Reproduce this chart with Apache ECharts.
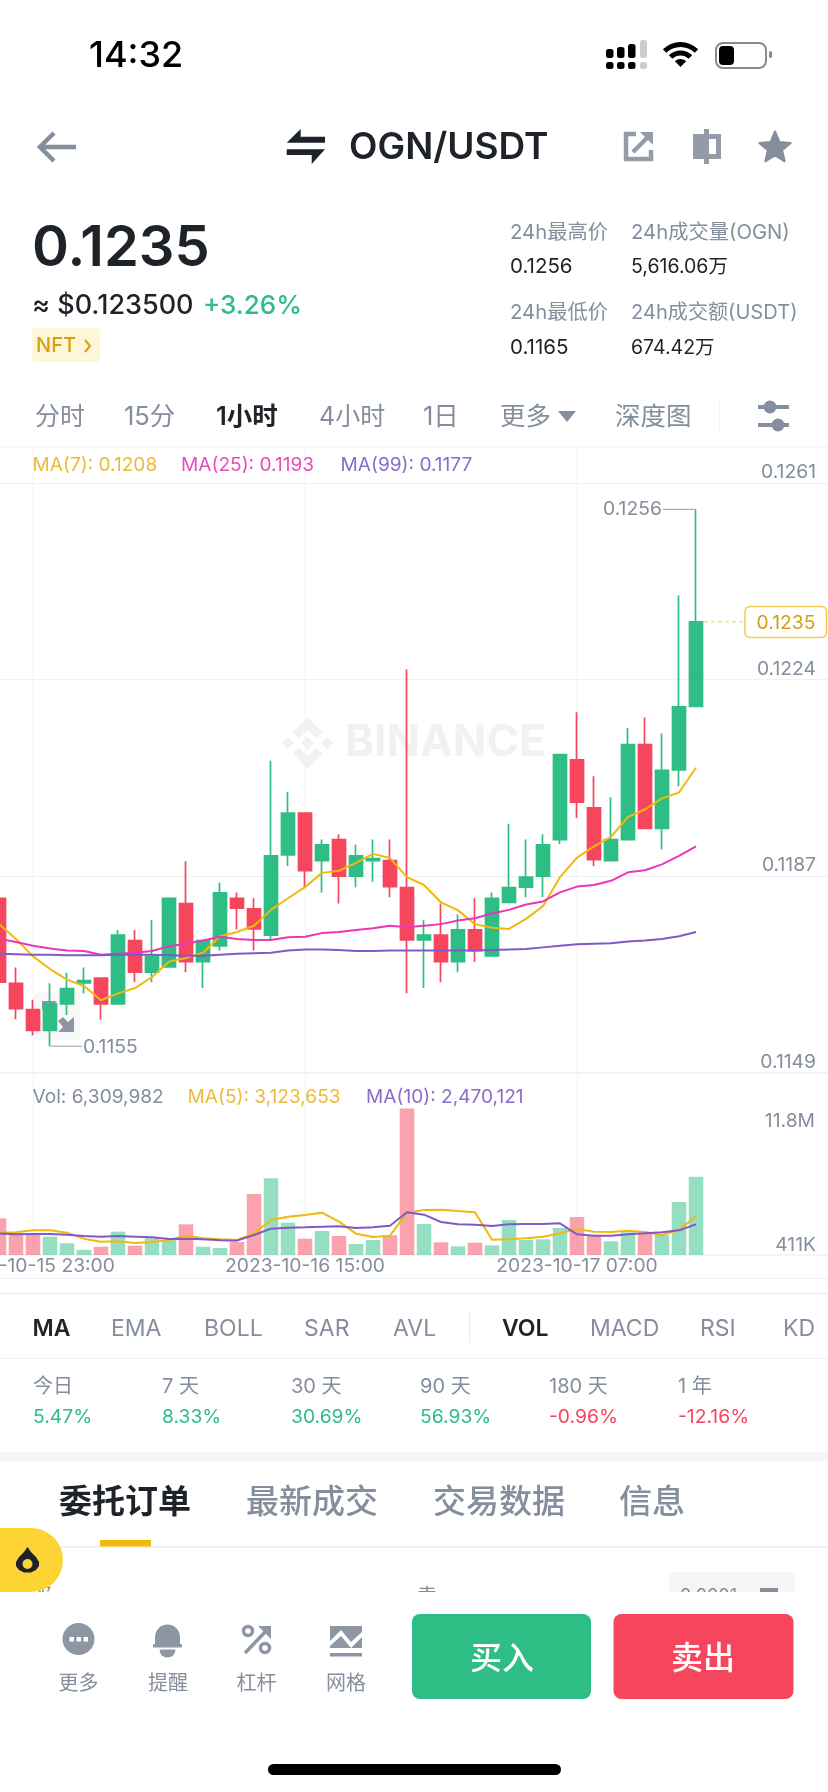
<!DOCTYPE html>
<html>
<head>
<meta charset="utf-8">
<title>OGN/USDT</title>
<style>
html,body{margin:0;padding:0;background:#fff;}
#container{width:828px;height:1792px;}
</style>
<script src="https://cdn.jsdelivr.net/npm/echarts@6/dist/echarts.min.js"></script>
</head>
<body>
<div id="container"></div>
<script>
// hourly candles
var hours = ['10-15 21:00','10-15 22:00','10-15 23:00','10-16 00:00','10-16 01:00','10-16 02:00','10-16 03:00','10-16 04:00','10-16 05:00','10-16 06:00','10-16 07:00','10-16 08:00','10-16 09:00','10-16 10:00','10-16 11:00','10-16 12:00','10-16 13:00','10-16 14:00','10-16 15:00','10-16 16:00','10-16 17:00','10-16 18:00','10-16 19:00','10-16 20:00','10-16 21:00','10-16 22:00','10-16 23:00','10-17 00:00','10-17 01:00','10-17 02:00','10-17 03:00','10-17 04:00','10-17 05:00','10-17 06:00','10-17 07:00','10-17 08:00','10-17 09:00','10-17 10:00','10-17 11:00','10-17 12:00','10-17 13:00','10-17 14:00'];
var emptySlots = ['','','','','','','',''];

var opens  = [0.11824,0.11663,0.11613,0.11574,0.11624,0.11664,0.11673,0.11624,0.11744,0.11684,0.11694,0.11814,0.11704,0.11734,0.11824,0.11804,0.11754,0.11906,0.11985,0.11895,0.11935,0.11866,0.11895,0.11895,0.11844,0.11745,0.11754,0.11704,0.11764,0.11715,0.11816,0.11845,0.11866,0.11935,0.12086,0.11995,0.11895,0.11935,0.12115,0.11956,0.12067,0.12187];
var closes = [0.11665,0.11615,0.11574,0.11624,0.11653,0.11668,0.11624,0.11754,0.11684,0.11714,0.11824,0.11704,0.11744,0.11834,0.11805,0.11766,0.11904,0.11985,0.11876,0.11925,0.11866,0.11904,0.11899,0.11846,0.11745,0.11754,0.11704,0.11764,0.11725,0.11824,0.11844,0.11864,0.11925,0.12096,0.12006,0.11897,0.11935,0.12115,0.11956,0.12066,0.12186,0.12347];
var lows   = [0.11665,0.11595,0.11564,0.11544,0.11603,0.11644,0.11594,0.11624,0.11665,0.11665,0.11694,0.11684,0.11654,0.11725,0.11765,0.11725,0.11745,0.11885,0.11845,0.11835,0.11814,0.11845,0.11855,0.11826,0.11644,0.11654,0.11665,0.11684,0.11704,0.11715,0.11816,0.11826,0.11826,0.11926,0.11976,0.11885,0.11895,0.11935,0.11956,0.11916,0.12036,0.12187];
var highs  = [0.11824,0.11693,0.11632,0.11663,0.11683,0.11693,0.11673,0.11764,0.11764,0.11783,0.11824,0.11894,0.11744,0.11854,0.11835,0.11824,0.12084,0.12025,0.11985,0.11935,0.11945,0.11925,0.11935,0.11935,0.12257,0.11783,0.11814,0.11793,0.11824,0.11835,0.11965,0.11935,0.11945,0.12096,0.12176,0.12055,0.12015,0.12146,0.12166,0.12136,0.12397,0.12560];

var ma7  = [0.11775,0.11747,0.11714,0.11690,0.11670,0.11658,0.11631,0.11644,0.11654,0.11675,0.11704,0.11711,0.11721,0.11752,0.11760,0.11772,0.11802,0.11824,0.11845,0.11872,0.11876,0.11891,0.11908,0.11900,0.11864,0.11849,0.11816,0.11801,0.11775,0.11768,0.11766,0.11785,0.11809,0.11864,0.11901,0.11922,0.11940,0.11978,0.11992,0.12013,0.12024,0.12071];
var ma25 = [0.11747,0.11741,0.11734,0.11729,0.11725,0.11724,0.11717,0.11719,0.11721,0.11724,0.11733,0.11738,0.11744,0.11751,0.11747,0.11745,0.11745,0.11750,0.11751,0.11758,0.11760,0.11764,0.11767,0.11772,0.11769,0.11772,0.11775,0.11782,0.11786,0.11795,0.11802,0.11812,0.11818,0.11835,0.11846,0.11849,0.11857,0.11873,0.11877,0.11888,0.11904,0.11922];
var ma99 = [0.11719,0.11718,0.11717,0.11717,0.11716,0.11716,0.11716,0.11717,0.11717,0.11717,0.11716,0.11715,0.11715,0.11717,0.11719,0.11720,0.11721,0.11725,0.11727,0.11727,0.11726,0.11724,0.11724,0.11725,0.11725,0.11725,0.11725,0.11725,0.11725,0.11726,0.11727,0.11728,0.11731,0.11734,0.11737,0.11738,0.11739,0.11742,0.11744,0.11747,0.11752,0.11760];

var volumes = [2954000,1745000,1692000,1477000,940000,411000,671000,1880000,752000,1343000,1208000,2470000,671000,564000,1047000,4914000,6176000,2605000,1316000,1933000,1530000,886000,1208000,1584000,11810000,2497000,1020000,698000,993000,779000,2819000,1208000,1262000,2175000,3061000,1611000,1101000,1826000,1745000,1611000,4269000,6309982];
var volMa5  = [1799000,1826000,1987000,1987000,1799000,1316000,1074000,1101000,967000,1047000,1208000,1557000,1343000,1262000,1208000,1745000,2819000,3088000,3222000,3410000,2685000,1718000,1450000,1557000,3410000,3625000,3652000,3544000,3437000,1235000,1262000,1343000,1477000,1745000,2094000,1880000,1853000,1960000,1853000,1611000,2014000,3123653];
var volMa10 = [1745000,1665000,1692000,1692000,1638000,1531000,1477000,1531000,1477000,1423000,1289000,1316000,1262000,1181000,1155000,1611000,2121000,2202000,2229000,2282000,2309000,2175000,2229000,2363000,3437000,3249000,2658000,2470121,2443000,2336000,2470000,2497000,2497000,2551000,1665000,1557000,1557000,1665000,1745000,1826000,1987000,2470121];

var priceTicks = [0.1261,0.12238,0.11866,0.11494];
var volTickLabels = ['11.8M','411K'];
var priceLegend = ['MA(7): 0.1208','MA(25): 0.1193','MA(99): 0.1177'];
var volLegend = ['Vol: 6,309,982','MA(5): 3,123,653','MA(10): 2,470,121'];
var highLabel = '0.1256', lowLabel = '0.1155', lastLabel = '0.1235';
var periodNames = ['今日','7 天','30 天','90 天','180 天','1 年'];
var periodChanges = ['5.47%','8.33%','30.69%','56.93%','-0.96%','-12.16%'];

var GREEN = '#2EBD85', RED = '#F6465D', GREY = '#848E9C', DARK = '#1E2329', RULE = '#F0F1F2';
var C_MA7 = '#F0B90B', C_MA25 = '#EC36B4', C_MA99 = '#8159C6';
var FONT = "Inter,'Noto Sans CJK SC',sans-serif";
var CJK = "'Noto Sans CJK SC',Inter,sans-serif";

var dom = document.getElementById('container');
var myChart = echarts.init(dom, null, {renderer:'canvas', width:828, height:1792});

var categories = hours.map(function (h) { return '2023-' + h; }).concat(emptySlots);
var candleData = opens.map(function (o, i) { return [o, closes[i], lows[i], highs[i]]; });
var volumeData = volumes.map(function (v, i) {
    return {value:v, itemStyle:{color: closes[i] >= opens[i] ? GREEN : RED, opacity:0.5}};
});
var tickEvery16 = function (i) { return (i - 2) % 16 === 0; };

function maLine(name, data, color, xi) {
    return {name:name, type:'line', data:data, xAxisIndex:xi, yAxisIndex:xi, showSymbol:false, silent:true,
        lineStyle:{color:color, width:2}, z:5};
}

var option = {
    animation:false,
    backgroundColor:'#fff',
    grid:[
        {left:-9.5, width:850, top:447, height:625.6, show:true, borderColor:RULE, borderWidth:1, outerBoundsMode:'none'},
        {left:-9.5, width:850, top:1073, height:182, show:true, borderColor:RULE, borderWidth:1.5, outerBoundsMode:'none'}
    ],
    xAxis:[
        {type:'category', gridIndex:0, data:categories, axisLine:{show:false}, axisTick:{show:false, alignWithLabel:true},
            axisLabel:{show:false},
            splitLine:{show:true, interval:tickEvery16, alignWithLabel:true, lineStyle:{color:RULE, width:1}}},
        {type:'category', gridIndex:1, data:categories, axisLine:{show:false}, axisTick:{show:false, alignWithLabel:true},
            axisLabel:{show:true, interval:tickEvery16, color:GREY, fontSize:19.3, fontFamily:FONT, margin:2, hideOverlap:false},
            splitLine:{show:true, interval:tickEvery16, alignWithLabel:true, lineStyle:{color:RULE, width:1}}}
    ],
    yAxis:[
        {type:'value', gridIndex:0, position:'right', min:0.11494, max:0.12678,
            axisLine:{show:false},
            axisTick:{show:false, customValues:priceTicks},
            axisLabel:{inside:true, margin:24.5, color:GREY, fontSize:19.3, fontFamily:FONT, verticalAlign:'bottom', lineHeight:21,
                customValues:priceTicks, formatter:function (v) { return v.toFixed(4); }},
            splitLine:{show:true, lineStyle:{color:RULE, width:1}}},
        {type:'value', gridIndex:1, position:'right', min:0, max:14660000,
            axisLine:{show:false}, axisTick:{show:false}, axisLabel:{show:false}, splitLine:{show:false}}
    ],
    series:[
        {name:'K', type:'candlestick', data:candleData, xAxisIndex:0, yAxisIndex:0, barWidth:13.5, silent:true, z:3,
            itemStyle:{color:GREEN, color0:RED, borderColor:GREEN, borderColor0:RED, borderWidth:1.7}},
        maLine('MA7', ma7, C_MA7, 0),
        maLine('MA25', ma25, C_MA25, 0),
        maLine('MA99', ma99, C_MA99, 0),
        {name:'Vol', type:'bar', data:volumeData, xAxisIndex:1, yAxisIndex:1, barWidth:14.5, silent:true, z:3},
        maLine('VolMA5', volMa5, C_MA7, 1),
        maLine('VolMA10', volMa10, C_MA99, 1)
    ]
};
myChart.setOption(option);

// ---- helpers for everything around the plot
function T(str, x, y, size, color, o) {
    o = o || {};
    return {type:'text', x:x, y:y, z:o.z || 20, silent:true, style:{text:str, fill:color,
        font:(o.weight || 400) + ' ' + size + 'px ' + (o.family || FONT), align:o.align || 'left', verticalAlign:'middle'}};
}
function R(x, y, w, h, fill, r, z) {
    return {type:'rect', z:z == null ? 20 : z, silent:true, shape:{x:x, y:y, width:w, height:h, r:r || 0}, style:{fill:fill}};
}
function L(x1, y1, x2, y2, color, w, o) {
    o = o || {};
    return {type:'line', z:o.z == null ? 20 : o.z, silent:true, shape:{x1:x1, y1:y1, x2:x2, y2:y2},
        style:{stroke:color, lineWidth:w, lineDash:o.dash || null, lineCap:o.cap || 'butt'}};
}
function P(pts, fill, z) {
    return {type:'polygon', z:z == null ? 20 : z, silent:true, shape:{points:pts}, style:{fill:fill}};
}
function PL(pts, color, w, z) {
    return {type:'polyline', z:z == null ? 20 : z, silent:true, shape:{points:pts}, style:{stroke:color, lineWidth:w, fill:null, lineJoin:'miter'}};
}
function Cr(cx, cy, r, fill, o) {
    o = o || {};
    return {type:'circle', z:20, silent:true, shape:{cx:cx, cy:cy, r:r}, style:{fill:fill, stroke:o.stroke || null, lineWidth:o.lw || 0}};
}
function unitPoly(cx, cy, s, pts, fill, z) {
    return P(pts.map(function (p) { return [cx + p[0] * s, cy + p[1] * s]; }), fill, z);
}

var g = [];

// status bar
g.push(T('14:32', 89, 56, 36, '#000', {weight:500}));
[[606,49,9],[617,47,11],[628,44,14]].forEach(function (c) { g.push(R(c[0], c[1], 7.5, c[2], '#000', 2.5)); });
g.push(R(640, 40, 7, 18, '#ccc', 2.5));
[606,617,628].forEach(function (x) { g.push(R(x, 62, 7.5, 7, '#000', 2.5)); });
g.push(R(640, 62, 7, 7, '#ccc', 2.5));
[[20,25],[11.5,16.5],[0,8]].forEach(function (a) {
    g.push({type:'sector', z:20, silent:true, shape:{cx:680.5, cy:67, r0:a[0], r:a[1], startAngle:-Math.PI * 0.75, endAngle:-Math.PI * 0.25}, style:{fill:'#000'}});
});
g.push({type:'rect', z:20, silent:true, shape:{x:716, y:43, width:50, height:25, r:7}, style:{fill:'#fff', stroke:'#8a8a8a', lineWidth:2}});
g.push(R(719, 46, 15, 19, '#000', 4));
g.push(R(769, 51, 3, 7, '#8a8a8a', 1.5));

// title bar
g.push(PL([[54,133],[40,147],[54,161]], GREY, 4.5));
g.push(L(41, 147, 76, 147, GREY, 4.5));
g.push(P([[286.7,142.7],[300.7,129],[300.7,136.7],[325,136.7],[325,142.7]], DARK));
g.push(P([[286.7,149.3],[325,149.3],[311.7,164],[311.7,155],[286.7,155]], DARK));
g.push(T('OGN/USDT', 349, 148, 37, DARK, {weight:600}));
g.push(PL([[636,134],[626,134],[626,159],[651,159],[651,150]], '#939BA8', 4.5));
g.push(L(633, 152, 648, 137, '#939BA8', 4.5));
g.push(P([[640,132],[653,132],[653,145]], '#939BA8'));
g.push(R(704, 129, 5, 35, '#939BA8'));
g.push(R(693, 134, 28, 25, '#939BA8'));
g.push(R(709, 139, 7, 15, '#fff'));
(function () {
    var pts = [], i, a, r;
    for (i = 0; i < 10; i++) {
        a = -Math.PI / 2 + i * Math.PI / 5;
        r = i % 2 ? 7.5 : 16.5;
        pts.push([775 + r * Math.cos(a), 148 + r * Math.sin(a)]);
    }
    g.push({type:'polygon', z:20, silent:true, shape:{points:pts}, style:{fill:'#848E9C', stroke:'#848E9C', lineWidth:2, lineJoin:'round'}});
})();

// price block
g.push(T('0.1235', 32, 249, 56, DARK, {weight:600}));
g.push(T('≈ $0.123500', 32, 306, 27, DARK, {weight:500}));
g.push(T('+3.26%', 203, 306, 26, GREEN, {weight:500}));
g.push(R(32, 328, 68, 34, '#FEF6D8', 4));
g.push(T('NFT', 36, 346, 20, '#D9A00C', {weight:500}));
g.push(PL([[85,340],[90,346],[85,352]], '#D9A00C', 2));

g.push(T('24h最高价', 510, 233, 20.3, GREY));
g.push(T('24h成交量(OGN)', 631, 233, 20.3, GREY));
g.push(T('0.1256', 510, 267, 20.5, DARK));
g.push(T('5,616.06万', 631, 267, 19.5, DARK));
g.push(T('24h最低价', 510, 313, 20.3, GREY));
g.push(T('24h成交额(USDT)', 631, 313, 20.1, GREY));
g.push(T('0.1165', 510, 348, 20.5, DARK));
g.push(T('674.42万', 631, 348, 19.5, DARK));

// interval tabs
g.push(T('分时', 35, 417, 25, GREY));
g.push(T('15分', 124, 417, 25.5, GREY));
g.push(T('1小时', 216, 417, 25.5, DARK, {weight:600}));
g.push(T('4小时', 319, 417, 25, GREY));
g.push(T('1日', 423, 417, 25.5, GREY));
g.push(T('更多', 500, 417, 25.5, GREY));
g.push(P([[558,411],[576,411],[567,422]], GREY));
g.push(T('深度图', 615, 417, 25.5, GREY));
g.push(L(719.5, 400, 719.5, 432, RULE, 1));
g.push(L(758, 407, 789, 407, GREY, 4));
g.push(L(758, 425, 789, 425, GREY, 4));
g.push(Cr(770, 407, 6.5, GREY));
g.push(Cr(778, 425, 6.5, GREY));

// watermark, sits behind the plot
g.push(unitPoly(307.5, 743, 25.5, [[0,-1],[0.58,-0.42],[0.34,-0.18],[0,-0.52],[-0.34,-0.18],[-0.58,-0.42]], RULE, 0));
g.push(unitPoly(307.5, 743, 25.5, [[0,1],[0.58,0.42],[0.34,0.18],[0,0.52],[-0.34,0.18],[-0.58,0.42]], RULE, 0));
g.push(unitPoly(307.5, 743, 25.5, [[0,-0.25],[0.25,0],[0,0.25],[-0.25,0]], RULE, 0));
g.push(unitPoly(307.5, 743, 25.5, [[-0.78,-0.24],[-0.54,0],[-0.78,0.24],[-1,0]], RULE, 0));
g.push(unitPoly(307.5, 743, 25.5, [[0.78,-0.24],[0.54,0],[0.78,0.24],[1,0]], RULE, 0));
g.push({type:'text', x:345, y:743, z:0, silent:true, style:{text:'BINANCE', fill:RULE, font:"700 44px Inter,sans-serif", align:'left', verticalAlign:'middle'}});

// legends
g.push(T(priceLegend[0], 32.5, 465, 19.1, '#EDBA3A'));
g.push(T(priceLegend[1], 181, 465, 19.1, '#E84DB8'));
g.push(T(priceLegend[2], 340.5, 465, 19.1, '#8A6CCB'));
g.push(T(volLegend[0], 32.5, 1097, 19.1, GREY));
g.push(T(volLegend[1], 187.5, 1097, 19.1, '#EDBA3A'));
g.push(T(volLegend[2], 366, 1097, 19.1, '#8A6CCB'));

// volume axis marks
g.push(T(volTickLabels[0], 815, 1121, 19.3, GREY, {align:'right'}));
g.push(T(volTickLabels[1], 816, 1245, 19.3, GREY, {align:'right'}));

// annotations tied to the data through the axis scales
var hiPt = myChart.convertToPixel({gridIndex:0}, [41, highs[41]]);
var loPt = myChart.convertToPixel({gridIndex:0}, [3, lows[3]]);
var lastPt = myChart.convertToPixel({gridIndex:0}, [41, closes[41]]);

g.push(L(663, hiPt[1], hiPt[0], hiPt[1], '#A6ADB8', 1.2, {z:10}));
g.push(T(highLabel, 603, hiPt[1], 19.3, GREY, {z:10}));
g.push(L(loPt[0], loPt[1], 82, loPt[1], '#A6ADB8', 1.2, {z:10}));
g.push(T(lowLabel, 83, loPt[1] + 1, 19.3, GREY, {z:10}));
g.push(L(lastPt[0] + 8, lastPt[1], 745, lastPt[1], '#F5D77E', 1.3, {z:10, dash:[4, 3]}));
g.push({type:'rect', z:10, silent:true, shape:{x:745, y:lastPt[1] - 15.5, width:81.5, height:31, r:5}, style:{fill:'#fff', stroke:'#F3CB4D', lineWidth:1.5}});
g.push(T(lastLabel, 786, lastPt[1] + 1, 19.3, '#D29F12', {align:'center', z:11}));

// little marker icon under the low candle
g.push(R(35, 992, 45, 48, '#F8F8F9', 3, 0));
g.push(P([[42,1001],[57,1001],[53,1005],[57,1010],[47,1010],[46,1006],[42,1010]], '#8E96A4', 1));
g.push(P([[74,1017],[74,1032],[58,1032],[63,1027],[58,1021],[63,1017],[68,1022]], '#8E96A4', 1));

// rows under the plot
g.push(L(0, 1278.5, 828, 1278.5, RULE, 1));
g.push(L(0, 1293.5, 828, 1293.5, '#ECEDEF', 1.5));
g.push(T('MA', 32.5, 1329, 23, DARK, {weight:600}));
g.push(T('EMA', 111, 1329, 23, GREY));
g.push(T('BOLL', 204, 1329, 23, GREY));
g.push(T('SAR', 304, 1329, 23, GREY));
g.push(T('AVL', 393, 1329, 23, GREY));
g.push(L(469.5, 1312, 469.5, 1343, '#E6E8EA', 1));
g.push(T('VOL', 502, 1329, 23, DARK, {weight:600}));
g.push(T('MACD', 590, 1329, 23, GREY));
g.push(T('RSI', 700, 1329, 23, GREY));
g.push(T('KDJ', 783, 1329, 23, GREY));
g.push(R(816, 1312, 12, 34, '#fff', 0, 21));
g.push(L(0, 1358.5, 828, 1358.5, RULE, 1));

[33,162,291,420,549,678].forEach(function (x, i) {
    g.push(T(periodNames[i], x, 1387, 20, GREY));
    g.push(T(periodChanges[i], x, 1417, 19.3, periodChanges[i].charAt(0) === '-' ? RED : GREEN));
});
g.push(R(0, 1452, 828, 9, '#F5F5F5'));

g.push(T('委托订单', 59, 1500, 33, DARK, {weight:700, family:CJK}));
g.push(T('最新成交', 246, 1500, 33, GREY, {weight:500, family:CJK}));
g.push(T('交易数据', 433, 1500, 33, GREY, {weight:500, family:CJK}));
g.push(T('信息', 619, 1500, 33, GREY, {weight:500, family:CJK}));
g.push(L(0, 1547, 828, 1547, RULE, 2));
g.push(R(100, 1540, 51, 6.5, '#F0B90B'));

// order book row that runs under the bottom bar
g.push(T('买', 32, 1597, 20, GREY));
g.push(T('卖', 417, 1597, 20, GREY));
g.push(R(669, 1572, 126, 40, '#F5F5F5', 6));
g.push(T('0.0001', 680, 1597, 18, GREY));
g.push(R(760, 1588, 18, 8, GREY));

// bottom bar
g.push(R(0, 1592, 828, 200, '#fff'));
g.push(R(-40, 1528, 103, 64, '#FCD535', [0, 32, 32, 0]));
g.push(P([[27.5,1547],[31,1552],[36,1557],[39,1562],[39,1566],[36,1570],[31,1572.5],[24,1572.5],[19,1570],[16,1566],[16,1562],[19,1557],[24,1552]], DARK));
g.push(Cr(27.5, 1564, 5, '#FCD535'));

g.push(Cr(78.5, 1639, 16, '#8E96A4'));
[69.5,76.5,83.5].forEach(function (x) { g.push(R(x, 1637, 4.5, 4.5, '#fff')); });
g.push(T('更多', 78.5, 1684, 20, GREY, {align:'center'}));

g.push({type:'sector', z:20, silent:true, shape:{cx:167.5, cy:1637, r0:0, r:12.5, startAngle:Math.PI, endAngle:0}, style:{fill:'#8E96A4'}});
g.push(R(155, 1637, 25, 8, '#8E96A4'));
g.push(R(153, 1644, 29, 3.5, '#8E96A4', 1));
g.push({type:'sector', z:20, silent:true, shape:{cx:167.5, cy:1649.5, r0:0, r:8, startAngle:0, endAngle:Math.PI}, style:{fill:'#8E96A4'}});
g.push(T('提醒', 168, 1684, 20, GREY, {align:'center'}));

g.push(Cr(248, 1631, 4.5, 'none', {stroke:'#8E96A4', lw:3.5}));
g.push(Cr(265, 1648, 4.5, 'none', {stroke:'#8E96A4', lw:3.5}));
g.push(L(245, 1653, 267, 1630, '#8E96A4', 3.5));
g.push(P([[258,1626],[271,1626],[271,1639]], '#8E96A4'));
g.push(T('杠杆', 256.5, 1684, 20, GREY, {align:'center'}));

g.push(P([[330,1626],[362,1626],[362,1632],[351,1642],[341,1630],[330,1641]], '#8E96A4'));
g.push(P([[330,1646],[341,1636],[351,1648],[362,1637],[362,1648],[330,1648]], '#8E96A4'));
g.push(R(330, 1653, 32, 3.5, '#8E96A4'));
g.push(T('网格', 346, 1684, 20, GREY, {align:'center'}));

g.push(R(412, 1614, 179, 85, GREEN, 8));
g.push(T('买入', 502, 1657, 32, '#fff', {align:'center', weight:500, family:CJK}));
g.push(R(613.5, 1614, 180, 85, RED, 8));
g.push(T('卖出', 703, 1657, 32, '#fff', {align:'center', weight:500, family:CJK}));
g.push(R(268, 1764, 293, 11, '#000', 5.5));

myChart.setOption({graphic:{elements:g}});
</script>
</body>
</html>
